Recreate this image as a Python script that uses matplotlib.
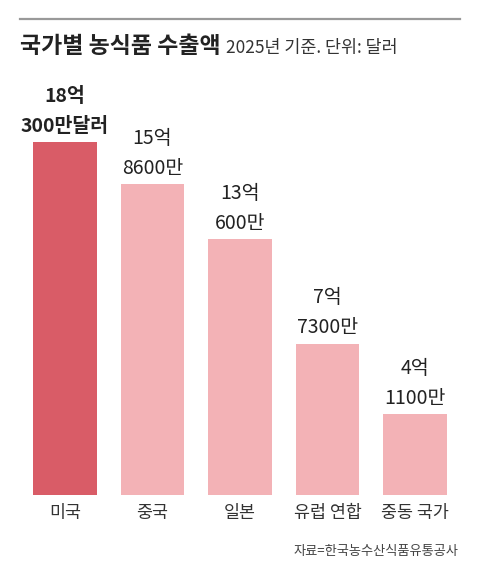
import matplotlib
matplotlib.use("Agg")
import matplotlib.pyplot as plt
from matplotlib.lines import Line2D

plt.rcParams['font.family'] = ['Noto Sans CJK KR', 'DejaVu Sans']

categories = ['미국', '중국', '일본', '유럽 연합', '중동 국가']
values = [18.03, 15.86, 13.06, 7.73, 4.11]  # 단위: 억 달러
label_top = ['18억', '15억', '13억', '7억', '4억']
label_bottom = ['300만달러', '8600만', '600만', '7300만', '1100만']
colors = ['#d95c67', '#f3b2b6', '#f3b2b6', '#f3b2b6', '#f3b2b6']

W, H = 480, 580
fig = plt.figure(figsize=(W / 100, H / 100), dpi=100)

def fx(px):
    return px / W

def fy(py):
    return 1 - py / H

# top rule
fig.add_artist(Line2D([fx(20), fx(460)], [fy(19), fy(19)], color='#999999', lw=1.6))

# title
fig.text(fx(20), fy(53), '국가별 농식품 수출액', fontsize=16.5, fontweight='bold',
         color='#222222', ha='left', va='baseline')
fig.text(fx(226), fy(53), '2025년 기준. 단위: 달러', fontsize=12.5,
         color='#333333', ha='left', va='baseline')

# axes
ax_left, ax_right = 21.25, 458.75
ax_bottom_px, ax_top_px = 494.7, 103.5
ax = fig.add_axes([fx(ax_left), fy(ax_bottom_px), fx(ax_right - ax_left),
                   (ax_bottom_px - ax_top_px) / H])
ax.set_xlim(-0.5, 4.5)
ax.set_ylim(0, 20)
ax.axis('off')

x = list(range(len(categories)))
ax.bar(x, values, width=0.731, color=colors, edgecolor='none')

for i, v in enumerate(values):
    weight = 'bold' if i == 0 else 'normal'
    ax.annotate(label_bottom[i], (i, v), xytext=(0, 11.5), textcoords='offset points',
                ha='center', va='center', fontsize=14, fontweight=weight, color='#222222')
    ax.annotate(label_top[i], (i, v), xytext=(0, 33.1), textcoords='offset points',
                ha='center', va='center', fontsize=14, fontweight=weight, color='#222222')
    ax.annotate(categories[i], (i, 0), xytext=(0, -13.5), textcoords='offset points',
                ha='center', va='center', fontsize=12.5, color='#333333')

fig.text(fx(459), fy(552), '자료=한국농수산식품유통공사', fontsize=9.5,
         color='#444444', ha='right', va='center')

fig.savefig('out.png', dpi=100)
